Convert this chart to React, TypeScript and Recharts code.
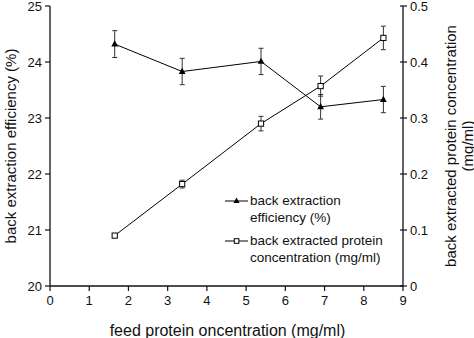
import { ComposedChart, Line, XAxis, YAxis, ErrorBar, Legend } from "recharts";

// feed protein concentration (mg/ml) for each run
const feedConc = [1.65, 3.37, 5.38, 6.9, 8.5];
// back extraction efficiency (%) and its spread
const efficiency = [24.32, 23.83, 24.01, 23.2, 23.33];
const efficiencyErr = [0.24, 0.235, 0.235, 0.22, 0.235];
// back extracted protein concentration (mg/ml) and its spread
const proteinConc = [0.09, 0.182, 0.29, 0.357, 0.443];
const proteinErr = [0.002, 0.007, 0.013, 0.018, 0.021];

const xTicks = [0, 1, 2, 3, 4, 5, 6, 7, 8, 9];
const leftTicks = [20, 21, 22, 23, 24, 25];
const rightTicks = [0, 0.1, 0.2, 0.3, 0.4, 0.5];

const effLegend = ["back extraction", "efficiency (%)"];
const protLegend = ["back extracted protein", "concentration (mg/ml)"];

const rows = feedConc.map((x, i) => ({
  x,
  eff: efficiency[i],
  effErr: efficiencyErr[i],
  prot: proteinConc[i],
  protErr: proteinErr[i],
}));

const FONT = "'Liberation Sans', Arial, sans-serif";
const INK = "#111";

function TriangleDot({ cx, cy }: any) {
  if (cx == null || cy == null) return null;
  return (
    <path
      d={`M${cx},${cy - 3.8} L${cx + 3.4},${cy + 2.4} L${cx - 3.4},${cy + 2.4} Z`}
      fill="#000"
    />
  );
}

function SquareDot({ cx, cy }: any) {
  if (cx == null || cy == null) return null;
  return (
    <rect x={cx - 2.6} y={cy - 2.6} width={5.2} height={5.2} fill="#fff" stroke="#000" strokeWidth={1} />
  );
}

// right axis ticks cross the axis line on both sides
function RightTick({ x, y, payload }: any) {
  const axisX = x - 7;
  return (
    <g>
      <line x1={axisX - 3} x2={axisX + 4} y1={y} y2={y} stroke={INK} strokeWidth={1.2} />
      <text x={x} y={y} dy="0.355em" textAnchor="start" fontSize={13} fontFamily={FONT} fill={INK}>
        {payload.value === 0 ? "0" : payload.value.toFixed(1)}
      </text>
    </g>
  );
}

const leftTitle = ({ viewBox }: any) => {
  const cx = viewBox.x + 10;
  const cy = viewBox.y + viewBox.height / 2;
  return (
    <text
      x={cx}
      y={cy}
      transform={`rotate(-90 ${cx} ${cy})`}
      textAnchor="middle"
      dominantBaseline="central"
      fontSize={15}
      fontFamily={FONT}
      fill={INK}
    >
      back extraction efficiency (%)
    </text>
  );
};

const rightTitle = ({ viewBox }: any) => {
  const cy = viewBox.y + viewBox.height / 2;
  const x1 = viewBox.x + 47;
  const x2 = viewBox.x + 64;
  return (
    <g fontSize={15} fontFamily={FONT} fill={INK}>
      <text x={x1} y={cy} transform={`rotate(-90 ${x1} ${cy})`} textAnchor="middle" dominantBaseline="central">
        back extracted protein concentration
      </text>
      <text x={x2} y={cy} transform={`rotate(-90 ${x2} ${cy})`} textAnchor="middle" dominantBaseline="central">
        (mg/ml)
      </text>
    </g>
  );
};

const bottomTitle = ({ viewBox }: any) => (
  <text
    x={viewBox.x + viewBox.width / 2 + 1}
    y={viewBox.y + 44}
    textAnchor="middle"
    dominantBaseline="central"
    fontSize={16}
    fontFamily={FONT}
    fill={INK}
  >
    feed protein oncentration (mg/ml)
  </text>
);

function LegendIcon({ square }: { square: boolean }) {
  return (
    <svg width={23} height={12} style={{ flexShrink: 0, marginTop: 2 }}>
      <line x1={0} x2={23} y1={6} y2={6} stroke="#000" strokeWidth={1} />
      {square ? (
        <rect x={9.3} y={3.7} width={4.6} height={4.6} fill="#fff" stroke="#000" />
      ) : (
        <path d="M11.5,2.6 L14.5,8 L8.5,8 Z" fill="#000" />
      )}
    </svg>
  );
}

function renderLegend() {
  const items = [
    { lines: effLegend, square: false },
    { lines: protLegend, square: true },
  ];
  return (
    <div style={{ fontFamily: FONT, fontSize: 13.5, lineHeight: "16.5px", color: INK, textAlign: "left" }}>
      {items.map((it, i) => (
        <div key={i} style={{ display: "flex", alignItems: "flex-start", marginTop: i ? 7 : 0 }}>
          <LegendIcon square={it.square} />
          <div style={{ marginLeft: 2, whiteSpace: "nowrap" }}>
            {it.lines.map((l, j) => (
              <div key={j}>{l}</div>
            ))}
          </div>
        </div>
      ))}
    </div>
  );
}

export default function App() {
  return (
    <div style={{ position: "absolute", left: 0, top: 0, background: "#fff" }}>
      <ComposedChart width={474} height={338} data={rows} margin={{ top: 6, right: 0, bottom: 22, left: 0 }}>
        <XAxis
          dataKey="x"
          type="number"
          domain={[0, 9]}
          ticks={xTicks}
          interval={0}
          tickSize={5}
          tickMargin={5}
          height={30}
          axisLine={{ stroke: INK, strokeWidth: 1.3 }}
          tickLine={{ stroke: INK, strokeWidth: 1.2 }}
          tick={{ fontSize: 13, fontFamily: FONT, fill: INK }}
          label={bottomTitle}
        />
        <YAxis
          yAxisId="left"
          orientation="left"
          domain={[20, 25]}
          ticks={leftTicks}
          interval={0}
          width={50}
          tickSize={5}
          tickMargin={3}
          axisLine={{ stroke: INK, strokeWidth: 1.3 }}
          tickLine={{ stroke: INK, strokeWidth: 1.2 }}
          tick={{ fontSize: 13, fontFamily: FONT, fill: INK }}
          label={leftTitle}
        />
        <YAxis
          yAxisId="right"
          orientation="right"
          domain={[0, 0.5]}
          ticks={rightTicks}
          interval={0}
          width={71}
          tickSize={4}
          tickMargin={3}
          axisLine={{ stroke: INK, strokeWidth: 1.3 }}
          tickLine={false}
          tick={<RightTick />}
          label={rightTitle}
        />
        {/* centred + middle keeps the legend from taking space off the plot */}
        <Legend
          layout="vertical"
          verticalAlign="middle"
          align="center"
          content={renderLegend}
          wrapperStyle={{ left: 225, top: 193, width: 200 }}
        />
        <Line
          yAxisId="right"
          dataKey="prot"
          name="back extracted protein concentration (mg/ml)"
          stroke="#000"
          strokeWidth={1}
          dot={<SquareDot />}
          activeDot={false}
          isAnimationActive={false}
        >
          <ErrorBar dataKey="protErr" direction="y" width={2.5} stroke="#333" strokeWidth={1} isAnimationActive={false} />
        </Line>
        <Line
          yAxisId="left"
          dataKey="eff"
          name="back extraction efficiency (%)"
          stroke="#000"
          strokeWidth={1}
          dot={<TriangleDot />}
          activeDot={false}
          isAnimationActive={false}
        >
          <ErrorBar dataKey="effErr" direction="y" width={2.5} stroke="#333" strokeWidth={1} isAnimationActive={false} />
        </Line>
      </ComposedChart>
    </div>
  );
}
